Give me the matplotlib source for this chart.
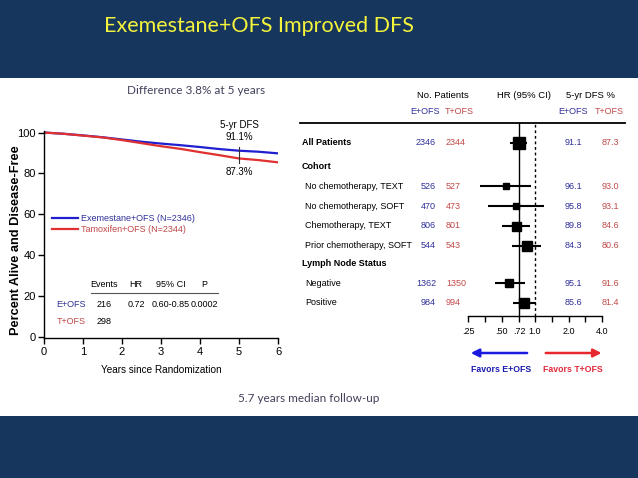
import matplotlib
matplotlib.use("Agg")
import matplotlib.pyplot as plt
import matplotlib.transforms as mtransforms
from matplotlib.patches import Rectangle
from matplotlib.lines import Line2D

# --- Kaplan-Meier curves ---
km_years = [0, 0.5, 1, 1.5, 2, 2.5, 3, 3.5, 4, 4.5, 5, 5.5, 6]
dfs_exemestane = [100, 99.4, 98.6, 97.7, 96.6, 95.5, 94.6, 93.8, 92.9, 91.9, 91.1, 90.6, 89.8]
dfs_tamoxifen = [100, 99.4, 98.5, 97.6, 96.3, 94.8, 93.3, 92.0, 90.4, 88.9, 87.3, 86.5, 85.4]

km_ticks_x = [0, 1, 2, 3, 4, 5, 6]
km_ticks_y = [0, 20, 40, 60, 80, 100]

# summary table under the curves
table_cols = ["Events", "HR", "95% CI", "P"]
events_exemestane = 216
events_tamoxifen = 298
hr_overall = "0.72"
ci_overall = "0.60-0.85"
p_overall = "0.0002"

# --- forest plot (subgroups) ---
subgroups = ["All Patients", "No chemotherapy, TEXT", "No chemotherapy, SOFT",
             "Chemotherapy, TEXT", "Prior chemotherapy, SOFT", "Negative", "Positive"]
n_exemestane = [2346, 526, 470, 806, 544, 1362, 984]
n_tamoxifen = [2344, 527, 473, 801, 543, 1350, 994]
hr = [0.72, 0.55, 0.68, 0.68, 0.84, 0.59, 0.80]
hr_low = [0.60, 0.32, 0.38, 0.51, 0.62, 0.44, 0.64]
hr_high = [0.85, 0.93, 1.21, 0.91, 1.13, 0.81, 1.02]
dfs5_exemestane = [91.1, 96.1, 95.8, 89.8, 84.3, 95.1, 85.6]
dfs5_tamoxifen = [87.3, 93.0, 93.1, 84.6, 80.6, 91.6, 81.4]
group_headers = ["Cohort", "Lymph Node Status"]

hr_ticks = [0.25, 0.5, 0.72, 1.0, 2.0, 4.0]
hr_tick_labels = [".25", ".50", ".72", "1.0", "2.0", "4.0"]
hr_minor_ticks = [0.354, 1.414, 2.83]

# --- styling ---
W, H = 638, 478
NAVY = "#17365d"
BLUE = "#1f1fd0"
RED = "#e03030"
BLUE_TXT = "#30309a"
RED_TXT = "#c04848"
NARROW = ["Liberation Sans Narrow", "Liberation Sans", "DejaVu Sans"]
SLIDE = ["Lato", "DejaVu Sans"]
FS = 6.5  # forest / table text size

plt.rcParams["font.family"] = NARROW


def fx(px):
    return px / W


def fy(py):
    return 1 - py / H


fig = plt.figure(figsize=(W / 100, H / 100), dpi=100)
fig.patch.set_facecolor(NAVY)

# white content panel of the slide
fig.add_artist(Rectangle((0, fy(415.5)), 1, fy(77.5) - fy(415.5),
                         transform=fig.transFigure, facecolor="white",
                         edgecolor="none", zorder=0))

fig.text(fx(259), fy(26), "Exemestane+OFS Improved DFS", color="#f4f43c",
         fontsize=15.5, family=SLIDE, ha="center", va="center")
fig.text(fx(196), fy(90), "Difference 3.8% at 5 years", color="#40405a",
         fontsize=8.5, family=SLIDE, ha="center", va="center")
fig.text(fx(309), fy(398), "5.7 years median follow-up", color="#40405a",
         fontsize=8.5, family=SLIDE, ha="center", va="center")

# ---------------- Kaplan-Meier panel ----------------
ax = fig.add_axes([fx(44), fy(338.3), (278 - 44) / W, (338.3 - 130.5) / H])
ax.set_facecolor("none")
ax.plot(km_years, dfs_exemestane, color=BLUE, lw=1.6, label="Exemestane+OFS (N=2346)")
ax.plot(km_years, dfs_tamoxifen, color=RED, lw=1.6, label="Tamoxifen+OFS (N=2344)")
ax.set_xlim(0, 6)
ax.set_ylim(-0.8, 101)
ax.set_xticks(km_ticks_x)
ax.set_yticks(km_ticks_y)
ax.tick_params(labelsize=8, length=4, width=1, direction="out", pad=2)
for side in ["top", "right"]:
    ax.spines[side].set_visible(False)
for side in ["left", "bottom"]:
    ax.spines[side].set_linewidth(1)
ax.set_xlabel("Years since Randomization", fontsize=7.2, labelpad=6)
ax.set_ylabel("Percent Alive and Disease-Free", fontsize=9.2, fontweight="bold")
ax.yaxis.set_label_coords(-0.095, 0.473)

# 5-year marker
i5 = km_years.index(5)
ax.plot([5, 5], [dfs_tamoxifen[i5] - 2, dfs_exemestane[i5] + 2], color="#333333", lw=0.8)
ax.text(5, 103.5, "5-yr DFS", fontsize=7, ha="center", va="center", clip_on=False)
ax.text(5, 97.6, f"{dfs_exemestane[i5]}%", fontsize=7, ha="center", va="center")
ax.text(5, 80.8, f"{dfs_tamoxifen[i5]}%", fontsize=7, ha="center", va="center")

leg = ax.legend(loc="center left", bbox_to_anchor=(0.02, 0.55), frameon=False,
                fontsize=6.5, handlelength=2.8, handletextpad=0.4, labelspacing=0.2,
                borderaxespad=0, labelcolor=[BLUE_TXT, RED_TXT])

# events / HR table
col_x = [1.55, 2.36, 3.24, 4.12]
for cx, name in zip(col_x, table_cols):
    ax.text(cx, 25.5, name, fontsize=FS, ha="center", va="center")
ax.plot([1.21, 4.47], [21.3, 21.3], color="#555555", lw=0.8)
ax.text(0.7, 15.7, "E+OFS", fontsize=FS, color=BLUE_TXT, ha="center", va="center")
ax.text(0.7, 7.5, "T+OFS", fontsize=FS, color=RED_TXT, ha="center", va="center")
ax.text(col_x[0], 15.7, str(events_exemestane), fontsize=FS, ha="center", va="center")
ax.text(col_x[0], 7.5, str(events_tamoxifen), fontsize=FS, ha="center", va="center")
ax.text(col_x[1], 15.7, hr_overall, fontsize=FS, ha="center", va="center")
ax.text(col_x[2], 15.7, ci_overall, fontsize=FS, ha="center", va="center")
ax.text(col_x[3], 15.7, p_overall, fontsize=FS, ha="center", va="center")

# ---------------- forest panel ----------------
row_pos = [0, 2.2, 3.2, 4.2, 5.2, 7.1, 8.1]
header_pos = [1.2, 6.1]
box_px = [12, 6.5, 6.5, 9, 9.5, 8, 10.5]

fax = fig.add_axes([fx(468), fy(316), (602 - 468) / W, 193 / H])
fax.set_facecolor("none")
fax.set_xscale("log", base=2)
fax.set_xlim(0.25, 4)
fax.set_ylim(8.76, -1.01)
fax.axvline(0.72, color="black", lw=1)
fax.axvline(1.0, color="black", lw=1, ls=(0, (2, 2)))
fax.hlines(row_pos, hr_low, hr_high, color="black", lw=1.5)
for y, h, s in zip(row_pos, hr, box_px):
    fax.plot([h], [y], marker="s", ms=s * 0.72, color="black", mec="black")
fax.set_xticks(hr_ticks)
fax.set_xticklabels(hr_tick_labels)
fax.set_xticks(hr_minor_ticks, minor=True)
fax.set_xticklabels([], minor=True)
fax.tick_params(axis="x", which="both", labelsize=FS, length=4, width=1, pad=4)
fax.set_yticks([])
for side in ["top", "right", "left"]:
    fax.spines[side].set_visible(False)
fax.spines["bottom"].set_linewidth(1)

# text columns share the forest rows
rt = mtransforms.blended_transform_factory(fig.transFigure, fax.transData)
for i, (label, y) in enumerate(zip(subgroups, row_pos)):
    bold = i == 0
    fig.text(fx(302 if bold else 305), y, label, transform=rt, fontsize=FS,
             fontweight="bold" if bold else "normal", va="center", ha="left")
    fig.text(fx(436), y, str(n_exemestane[i]), transform=rt, fontsize=FS,
             color=BLUE_TXT, va="center", ha="right")
    fig.text(fx(446), y, str(n_tamoxifen[i]), transform=rt, fontsize=FS,
             color=RED_TXT, va="center", ha="left")
    fig.text(fx(573), y, f"{dfs5_exemestane[i]:.1f}", transform=rt, fontsize=FS,
             color=BLUE_TXT, va="center", ha="center")
    fig.text(fx(610), y, f"{dfs5_tamoxifen[i]:.1f}", transform=rt, fontsize=FS,
             color=RED_TXT, va="center", ha="center")
for label, y in zip(group_headers, header_pos):
    fig.text(fx(302), y, label, transform=rt, fontsize=FS, fontweight="bold",
             va="center", ha="left")

# column headers
fig.text(fx(443), fy(96), "No. Patients", fontsize=FS + 0.3, ha="center", va="center")
fig.text(fx(425), fy(111), "E+OFS", fontsize=FS, color=BLUE_TXT, ha="center", va="center")
fig.text(fx(459), fy(111), "T+OFS", fontsize=FS, color=RED_TXT, ha="center", va="center")
fig.text(fx(524), fy(96), "HR (95% CI)", fontsize=FS + 0.3, ha="center", va="center")
fig.text(fx(591), fy(96), "5-yr DFS %", fontsize=FS + 0.3, ha="center", va="center")
fig.text(fx(573), fy(111), "E+OFS", fontsize=FS, color=BLUE_TXT, ha="center", va="center")
fig.text(fx(609), fy(111), "T+OFS", fontsize=FS, color=RED_TXT, ha="center", va="center")
fig.add_artist(Line2D([fx(300), fx(625)], [fy(123), fy(123)], color="black", lw=1.3,
                      transform=fig.transFigure))

# favours arrows below the HR axis
at = mtransforms.blended_transform_factory(fax.transData, fig.transFigure)
fax.annotate("", xy=(0.25, fy(353)), xytext=(0.9, fy(353)), xycoords=at, textcoords=at,
             arrowprops=dict(arrowstyle="-|>", color="#1a1ae0", lw=1.8, mutation_scale=12))
fax.annotate("", xy=(4.2, fy(353)), xytext=(1.18, fy(353)), xycoords=at, textcoords=at,
             arrowprops=dict(arrowstyle="-|>", color="#e8282e", lw=1.8, mutation_scale=12))
fig.text(fx(501), fy(369), "Favors E+OFS", fontsize=6.3, fontweight="bold",
         color="#1a1ab0", ha="center", va="center")
fig.text(fx(573), fy(369), "Favors T+OFS", fontsize=6.3, fontweight="bold",
         color="#e0283a", ha="center", va="center")

fig.savefig("out.png", dpi=100, facecolor=fig.get_facecolor())
